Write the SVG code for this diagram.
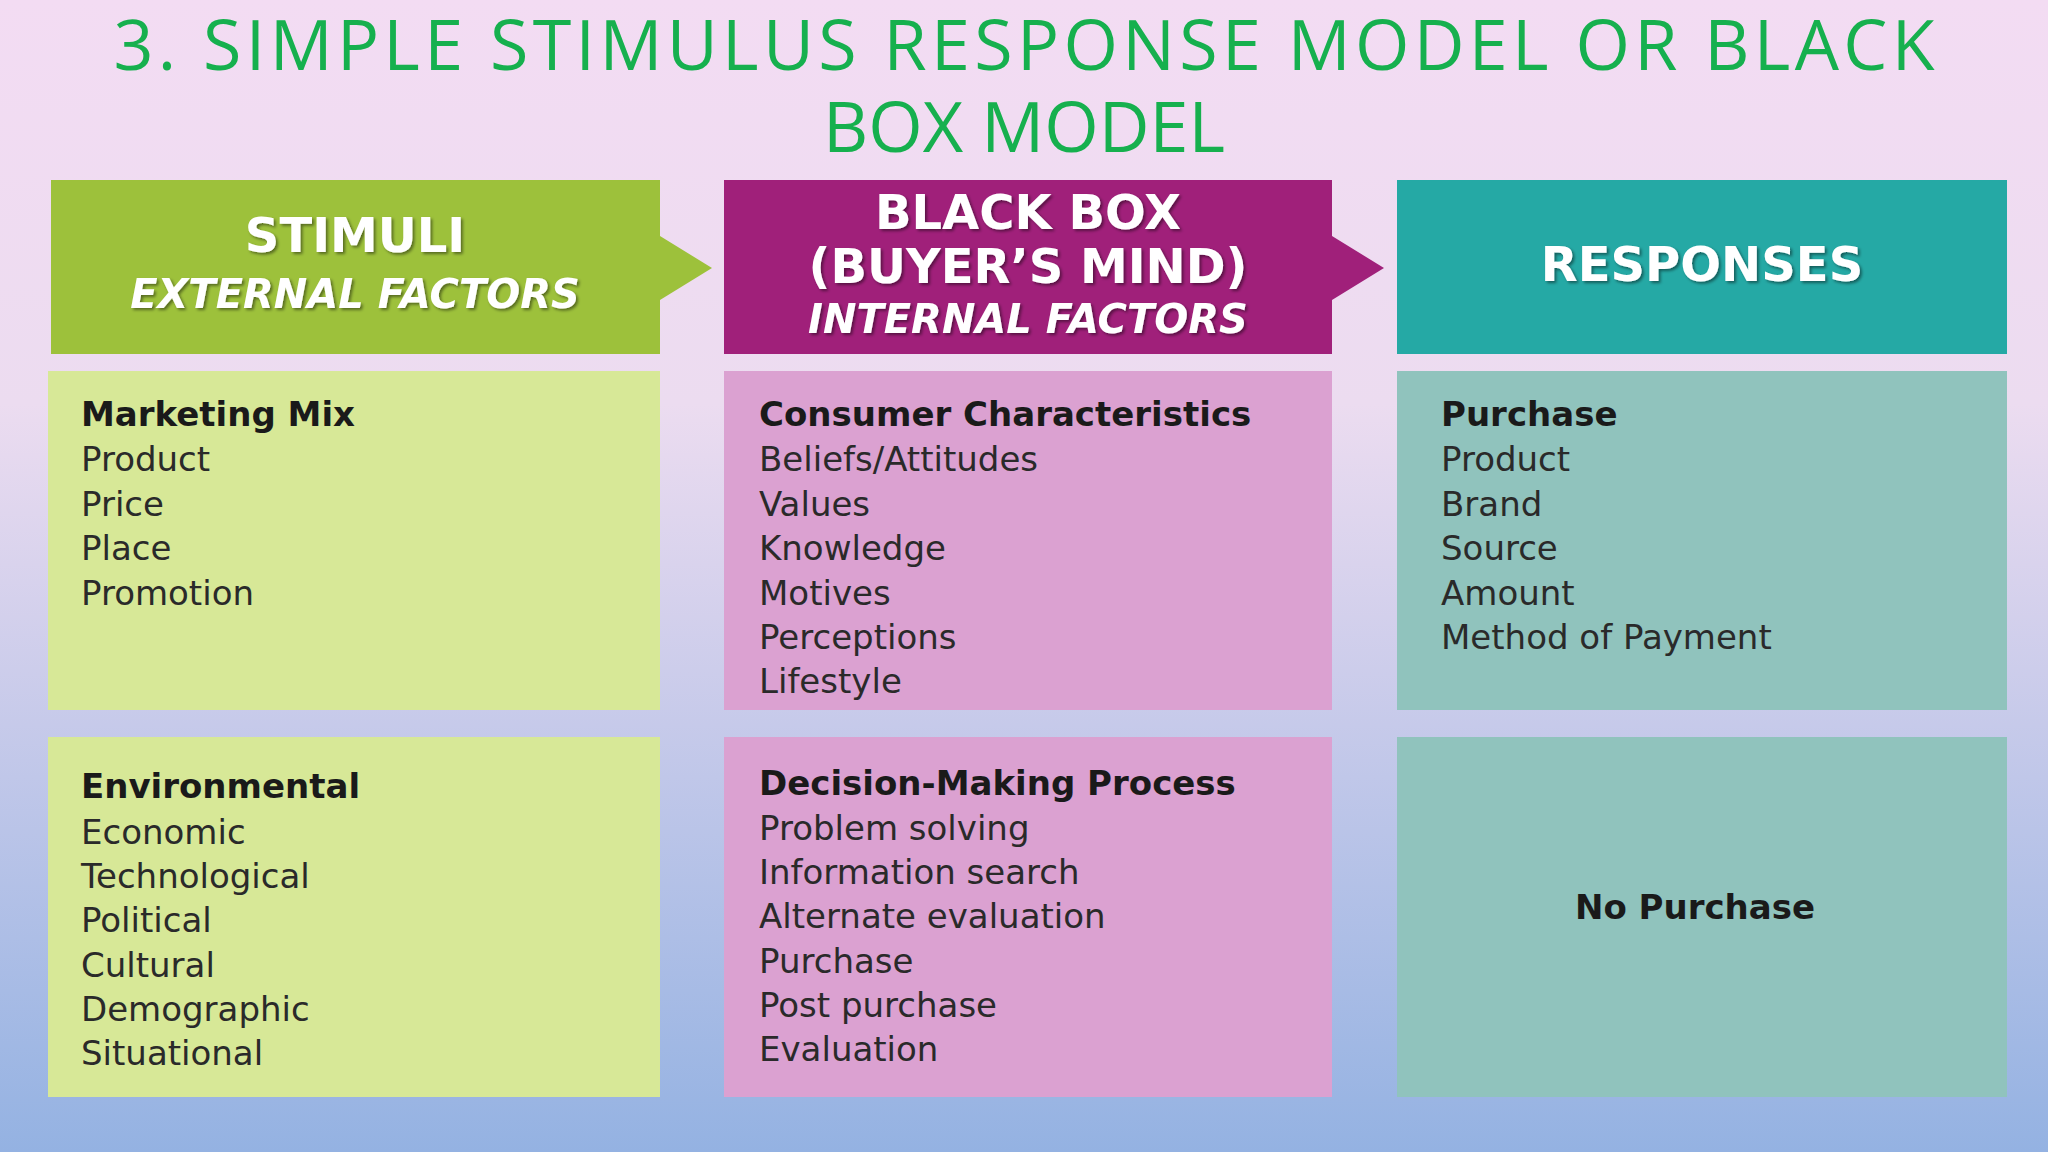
<svg xmlns="http://www.w3.org/2000/svg" width="2048" height="1152" viewBox="0 0 2048 1152">
<defs>
<linearGradient id="bg" x1="0" y1="0" x2="0" y2="1">
<stop offset="0" stop-color="#f3dcf3"/><stop offset="0.35" stop-color="#ecdcf0"/><stop offset="1" stop-color="#94b2e2"/>
</linearGradient>
<filter id="sh"><feDropShadow dx="2" dy="2" stdDeviation="1.5" flood-color="#000" flood-opacity="0.45"/></filter>
</defs>
<style>
text{font-family:"DejaVu Sans","Open Sans",sans-serif}
.title{fill:#16b04e;font-size:70px;font-family:"Open Sans","DejaVu Sans",sans-serif}
.hd{fill:#fff;font-weight:bold;font-size:48px;text-anchor:middle;filter:url(#sh)}
.it{font-style:italic;font-size:40px}
.b{font-size:34px;fill:#2a2a2a}
.bh{font-weight:bold;fill:#1a1a1a}
</style>
<rect width="2048" height="1152" fill="url(#bg)"/>
<text class="title" x="1024" y="70" text-anchor="middle" textLength="1821">3. SIMPLE STIMULUS RESPONSE MODEL OR BLACK</text>
<text class="title" x="1024" y="152" text-anchor="middle">BOX MODEL</text>
<g id="connectors">
<polygon points="660,236 712,268 660,300" fill="#9dc13b"/>
<polygon points="1332,236 1384,268 1332,300" fill="#a0207a"/>
</g>
<g id="stimuli">
<rect x="51" y="180" width="609" height="174" fill="#9dc13b"/>
<text class="hd" x="355" y="252">STIMULI</text>
<text class="hd it" x="355" y="308">EXTERNAL FACTORS</text>
</g>
<g id="blackbox">
<rect x="724" y="180" width="608" height="174" fill="#a0207a"/>
<text class="hd" x="1028" y="229" font-size="46">BLACK BOX</text>
<text class="hd" x="1028" y="283" font-size="46">(BUYER’S MIND)</text>
<text class="hd it" x="1028" y="333">INTERNAL FACTORS</text>
</g>
<g id="responses">
<rect x="1397" y="180" width="610" height="174" fill="#25a9a5"/>
<text class="hd" x="1702" y="281">RESPONSES</text>
</g>
<g id="marketing">
<rect x="48" y="371" width="612" height="339" fill="#d7e897"/>
<text class="b" x="81"><tspan class="bh" x="81" y="426">Marketing Mix</tspan><tspan x="81" y="471">Product</tspan><tspan x="81" y="516">Price</tspan><tspan x="81" y="560">Place</tspan><tspan x="81" y="605">Promotion</tspan></text>
</g>
<g id="consumer">
<rect x="724" y="371" width="608" height="339" fill="#dba1d1"/>
<text class="b"><tspan class="bh" x="759" y="426">Consumer Characteristics</tspan><tspan x="759" y="471">Beliefs/Attitudes</tspan><tspan x="759" y="516">Values</tspan><tspan x="759" y="560">Knowledge</tspan><tspan x="759" y="605">Motives</tspan><tspan x="759" y="649">Perceptions</tspan><tspan x="759" y="693">Lifestyle</tspan></text>
</g>
<g id="purchase">
<rect x="1397" y="371" width="610" height="339" fill="#90c3bd"/>
<text class="b"><tspan class="bh" x="1441" y="426">Purchase</tspan><tspan x="1441" y="471">Product</tspan><tspan x="1441" y="516">Brand</tspan><tspan x="1441" y="560">Source</tspan><tspan x="1441" y="605">Amount</tspan><tspan x="1441" y="649">Method of Payment</tspan></text>
</g>
<g id="environmental">
<rect x="48" y="737" width="612" height="360" fill="#d7e897"/>
<text class="b"><tspan class="bh" x="81" y="798">Environmental</tspan><tspan x="81" y="844">Economic</tspan><tspan x="81" y="888">Technological</tspan><tspan x="81" y="932">Political</tspan><tspan x="81" y="977">Cultural</tspan><tspan x="81" y="1021">Demographic</tspan><tspan x="81" y="1065">Situational</tspan></text>
</g>
<g id="decision">
<rect x="724" y="737" width="608" height="360" fill="#dba1d1"/>
<text class="b"><tspan class="bh" x="759" y="795">Decision-Making Process</tspan><tspan x="759" y="840">Problem solving</tspan><tspan x="759" y="884">Information search</tspan><tspan x="759" y="928">Alternate evaluation</tspan><tspan x="759" y="973">Purchase</tspan><tspan x="759" y="1017">Post purchase</tspan><tspan x="759" y="1061">Evaluation</tspan></text>
</g>
<g id="nopurchase">
<rect x="1397" y="737" width="610" height="360" fill="#90c3bd"/>
<text class="b bh" x="1695" y="919" text-anchor="middle">No Purchase</text>
</g>
</svg>
